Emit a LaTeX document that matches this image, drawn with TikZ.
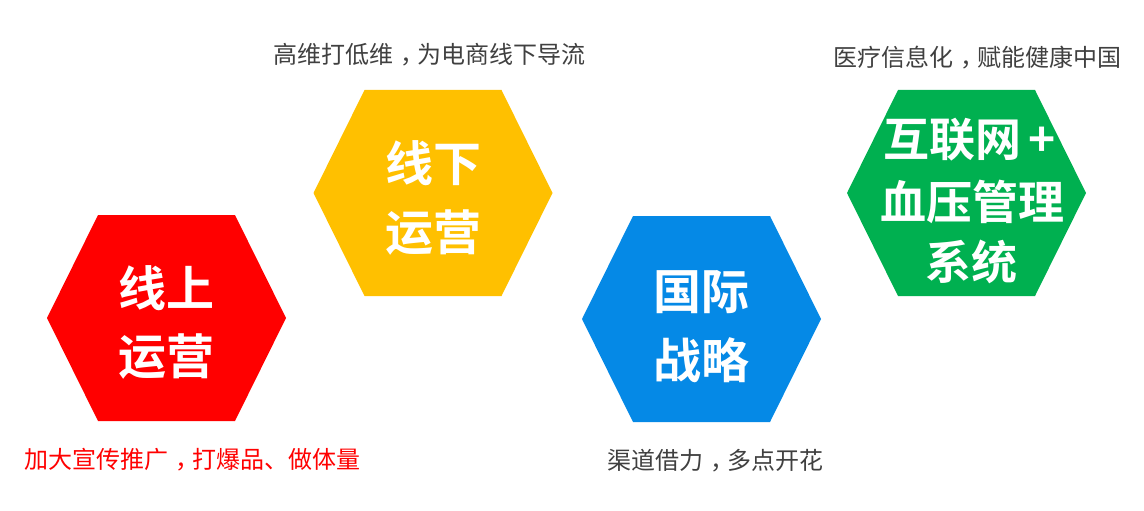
\documentclass[tikz,border=0pt]{standalone}
\usepackage{fontspec}
\newfontfamily\cjk{Noto Sans CJK SC}
\newfontfamily\cjkb{Noto Sans CJK SC Bold}
\newcommand{\ccomma}{\hspace{0.3em}\makebox[0.7em][l]{，}}
\definecolor{hexred}{HTML}{FF0000}
\definecolor{hexyellow}{HTML}{FFC000}
\definecolor{hexblue}{HTML}{0589E6}
\definecolor{hexgreen}{HTML}{00B050}
\definecolor{captgray}{HTML}{404040}
\begin{document}
\begin{tikzpicture}[x=1pt,y=-1pt,
  hexlabel/.style={text=white,font=\cjkb\fontsize{46}{46}\selectfont,inner sep=0pt},
  biglabel/.style={hexlabel,font=\cjkb\fontsize{48}{48}\selectfont},
  caption/.style={text=captgray,font=\cjk\fontsize{24}{24}\selectfont,inner sep=0pt}]
\useasboundingbox (0,0) rectangle (1144,511);
\newcommand{\hexat}[2]{%
  \fill[#2,shift={(#1)}] (-119.5,0) -- (-68.5,-103) -- (68.5,-103) -- (119.5,0) -- (68.5,103) -- (-68.5,103) -- cycle;}
\coordinate (h1) at (166.5,318);
\coordinate (h2) at (433,193);
\coordinate (h3) at (701.5,319);
\coordinate (h4) at (966.5,193);
\hexat{h1}{hexred}
\hexat{h2}{hexyellow}
\hexat{h3}{hexblue}
\hexat{h4}{hexgreen}
% labels in hexagons
\node[biglabel] (t1a) at (166.5,288) {线上};
\node[biglabel] (t1b) at (166.5,357) {运营};
\node[biglabel] (t2a) at (433.5,163) {线下};
\node[biglabel] (t2b) at (433.5,233) {运营};
\node[biglabel] (t3a) at (701.5,292) {国际};
\node[biglabel] (t3b) at (701.5,360) {战略};
\node[hexlabel] (t4a) at (969.5,140) {互联网\,+};
\node[hexlabel] (t4b) at (972,202) {血压管理};
\node[hexlabel] (t4c) at (971,262) {系统};
% captions
\node[caption] (c2) at (429,55) {高维打低维\ccomma 为电商线下导流};
\node[caption] (c4) at (977.5,58) {医疗信息化\ccomma 赋能健康中国};
\node[caption,text=hexred] (c1) at (192.5,460) {加大宣传推广\ccomma 打爆品、做体量};
\node[caption] (c3) at (715.5,461) {渠道借力\ccomma 多点开花};
\end{tikzpicture}
\end{document}
